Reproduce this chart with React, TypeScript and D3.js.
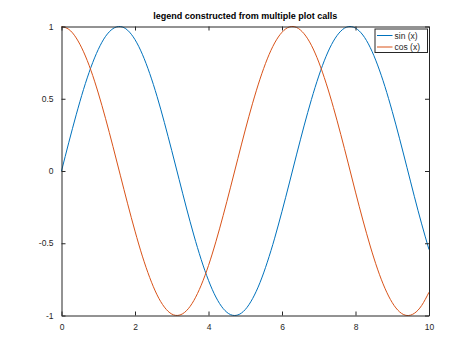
import React, { useEffect, useRef } from 'react';
import * as d3 from 'd3';

// sample points
const xs = [0, 0.2, 0.4, 0.6, 0.8, 1.0, 1.2, 1.4, 1.6, 1.8, 2.0, 2.2, 2.4, 2.6, 2.8, 3.0, 3.2, 3.4, 3.6, 3.8,
  4.0, 4.2, 4.4, 4.6, 4.8, 5.0, 5.2, 5.4, 5.6, 5.8, 6.0, 6.2, 6.4, 6.6, 6.8, 7.0, 7.2, 7.4, 7.6, 7.8,
  8.0, 8.2, 8.4, 8.6, 8.8, 9.0, 9.2, 9.4, 9.6, 9.8, 10.0];
const sinValues = [0.000, 0.199, 0.389, 0.565, 0.717, 0.841, 0.932, 0.985, 1.000, 0.974, 0.909, 0.808, 0.675,
  0.516, 0.335, 0.141, -0.058, -0.256, -0.443, -0.612, -0.757, -0.872, -0.952, -0.994, -0.996, -0.959,
  -0.883, -0.773, -0.631, -0.465, -0.279, -0.083, 0.117, 0.312, 0.494, 0.657, 0.794, 0.899, 0.968, 0.999,
  0.989, 0.941, 0.855, 0.734, 0.585, 0.412, 0.223, 0.025, -0.175, -0.366, -0.544];
const cosValues = [1.000, 0.980, 0.921, 0.825, 0.697, 0.540, 0.362, 0.170, -0.029, -0.227, -0.416, -0.589,
  -0.737, -0.857, -0.942, -0.990, -0.998, -0.967, -0.897, -0.791, -0.654, -0.490, -0.307, -0.112, 0.087,
  0.284, 0.469, 0.635, 0.776, 0.886, 0.960, 0.997, 0.993, 0.950, 0.870, 0.754, 0.608, 0.439, 0.252, 0.055,
  -0.146, -0.339, -0.519, -0.679, -0.811, -0.911, -0.975, -1.000, -0.985, -0.931, -0.839];
const xTicks = [0, 2, 4, 6, 8, 10];
const yTicks = [-1, -0.5, 0, 0.5, 1];
const seriesNames = ['sin (x)', 'cos (x)'];
const seriesColors = ['#0072bd', '#d95319'];

const App: React.FC = () => {
  const svgRef = useRef<SVGSVGElement>(null);
  const width = 474;
  const height = 355;

  useEffect(() => {
    if (!svgRef.current) return;
    const svg = d3.select(svgRef.current);
    svg.selectAll('*').remove();

    const margin = { top: 26.5, right: 45, bottom: 39.5, left: 61.5 };
    const innerWidth = width - margin.left - margin.right;
    const innerHeight = height - margin.top - margin.bottom;
    const font = 'Liberation Sans, Arial, sans-serif';
    const axisColor = '#262626';

    const g = svg.append('g').attr('transform', `translate(${margin.left},${margin.top})`);

    const x = d3.scaleLinear().domain([0, 10]).range([0, innerWidth]);
    const y = d3.scaleLinear().domain([-1, 1]).range([innerHeight, 0]);

    const line = d3.line<number>()
      .x((_, i) => x(xs[i]))
      .y(d => y(d))
      .curve(d3.curveNatural);

    [sinValues, cosValues].forEach((vals, k) => {
      g.append('path')
        .datum(vals)
        .attr('fill', 'none')
        .attr('stroke', seriesColors[k])
        .attr('stroke-width', 1)
        .attr('d', line);
    });

    // axes: ticks inside, box on all sides
    const tl = 4;
    const styleAxis = (sel: d3.Selection<SVGGElement, unknown, null, undefined>) => {
      sel.select('.domain').attr('stroke', axisColor);
      sel.selectAll('.tick line').attr('stroke', axisColor);
      sel.selectAll('.tick text').attr('fill', axisColor).style('font-family', font).style('font-size', '8.5px');
    };

    g.append('g')
      .attr('transform', `translate(0,${innerHeight})`)
      .call(d3.axisBottom(x).tickValues(xTicks).tickSizeInner(-tl).tickSizeOuter(0).tickPadding(8).tickFormat(d3.format('d')))
      .call(styleAxis);
    g.append('g')
      .call(d3.axisTop(x).tickValues(xTicks).tickSizeInner(-tl).tickSizeOuter(0).tickFormat(() => ''))
      .call(styleAxis);
    g.append('g')
      .call(d3.axisLeft(y).tickValues(yTicks).tickSizeInner(-tl).tickSizeOuter(0).tickPadding(8).tickFormat(d => String(d)))
      .call(styleAxis);
    g.append('g')
      .attr('transform', `translate(${innerWidth},0)`)
      .call(d3.axisRight(y).tickValues(yTicks).tickSizeInner(-tl).tickSizeOuter(0).tickFormat(() => ''))
      .call(styleAxis);

    // title
    svg.append('text')
      .attr('x', margin.left + innerWidth / 2)
      .attr('y', 18.5)
      .attr('text-anchor', 'middle')
      .style('font-family', font)
      .style('font-size', '9px')
      .style('font-weight', 'bold')
      .attr('fill', '#000')
      .text('legend constructed from multiple plot calls');

    // legend
    const lg = svg.append('g').attr('transform', 'translate(375,29)');
    lg.append('rect')
      .attr('width', 52.5)
      .attr('height', 23.5)
      .attr('fill', '#fff')
      .attr('stroke', axisColor)
      .attr('stroke-width', 1);
    seriesNames.forEach((name, k) => {
      const yy = 6.5 + k * 11.5;
      lg.append('line')
        .attr('x1', 2).attr('x2', 17.5)
        .attr('y1', yy).attr('y2', yy)
        .attr('stroke', seriesColors[k]);
      lg.append('text')
        .attr('x', 19.5)
        .attr('y', yy + 3)
        .style('font-family', font)
        .style('font-size', '8.5px')
        .attr('fill', axisColor)
        .text(name);
    });
  }, []);

  return (
    <svg
      ref={svgRef}
      width={width}
      height={height}
      style={{ position: 'fixed', left: 0, top: 0, background: '#fff' }}
    />
  );
};

export default App;
